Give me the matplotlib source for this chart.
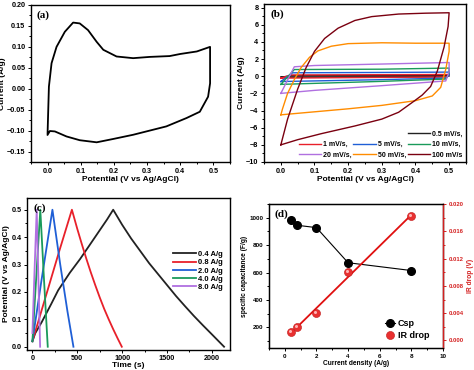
import numpy as np
import matplotlib
matplotlib.use('Agg')
import matplotlib.pyplot as plt
import matplotlib.transforms as mtransforms
from matplotlib.ticker import MultipleLocator, AutoMinorLocator

plt.rcParams['font.family'] = ['Liberation Sans', 'DejaVu Sans']
plt.rcParams['font.weight'] = 'bold'
plt.rcParams['axes.labelweight'] = 'bold'

# ---- (a) single CV loop
cv_a_pot = [0.0, 0.004, 0.012, 0.027, 0.052, 0.077, 0.097, 0.122, 0.148, 0.168, 0.208, 0.258,
            0.308, 0.368, 0.40, 0.45, 0.49, 0.49, 0.484, 0.459, 0.419, 0.358, 0.258, 0.198,
            0.148, 0.097, 0.057, 0.022, 0.007, 0.0]
cv_a_cur = [-0.106, 0.005, 0.061, 0.100, 0.136, 0.158, 0.156, 0.140, 0.112, 0.093, 0.077, 0.073,
            0.076, 0.078, 0.083, 0.089, 0.100, 0.013, -0.019, -0.055, -0.070, -0.090, -0.110, -0.120,
            -0.128, -0.123, -0.114, -0.102, -0.101, -0.110]

# ---- (b) CV at different scan rates
scan_labels = ['0.5 mV/s,', '1 mV/s,', '5 mV/s,', '10 mV/s,', '20 mV/s,', '50 mV/s,', '100 mV/s']
scan_colors = ['#222222', '#e8202a', '#1f5fd6', '#1a9a5a', '#b070e0', '#ff8c00', '#7a0010']
cv_pot = [
    [0.0, 0.03, 0.3, 0.5, 0.5, 0.49, 0.3, 0.0],
    [0.0, 0.03, 0.3, 0.5, 0.5, 0.49, 0.3, 0.0],
    [0.0, 0.035, 0.3, 0.5, 0.5, 0.49, 0.3, 0.0],
    [0.0, 0.04, 0.3, 0.5, 0.5, 0.49, 0.3, 0.0],
    [0.0, 0.04, 0.1, 0.3, 0.5, 0.5, 0.49, 0.3, 0.1, 0.0],
    [0.0, 0.005, 0.02, 0.04, 0.06, 0.085, 0.11, 0.15, 0.2, 0.3, 0.4, 0.5,
     0.5, 0.49, 0.475, 0.45, 0.4, 0.3, 0.2, 0.1, 0.0],
    [0.0, 0.02, 0.05, 0.075, 0.1, 0.13, 0.17, 0.22, 0.27, 0.35, 0.43, 0.5,
     0.497, 0.485, 0.465, 0.445, 0.42, 0.396, 0.35, 0.3, 0.22, 0.12, 0.05, 0.0],
]
cv_cur = [
    [-0.12, 0.06, 0.08, 0.10, 0.02, -0.06, -0.09, -0.12],
    [-0.22, 0.15, 0.18, 0.20, 0.05, -0.08, -0.14, -0.22],
    [-0.62, 0.40, 0.44, 0.48, 0.10, -0.22, -0.40, -0.62],
    [-0.95, 0.78, 0.82, 0.95, 0.30, -0.33, -0.60, -0.95],
    [-2.0, 1.10, 1.25, 1.42, 1.60, 0.50, -0.55, -1.10, -1.65, -2.0],
    [-4.5, -3.8, -2.0, -0.4, 1.0, 2.2, 2.95, 3.5, 3.8, 3.9, 3.85, 3.85,
     2.9, 0.8, -1.3, -2.3, -2.85, -3.4, -3.8, -4.15, -4.5],
    [-8.0, -5.0, -1.5, 1.0, 2.9, 4.4, 5.6, 6.5, 6.95, 7.25, 7.35, 7.4,
     5.8, 3.4, 0.6, -1.2, -2.2, -2.9, -4.2, -5.0, -5.8, -6.7, -7.4, -8.0],
]

# ---- (c) GCD curves
gcd_labels = ['0.4 A/g', '0.8 A/g', '2.0 A/g', '4.0 A/g', '8.0 A/g']
gcd_colors = ['#222222', '#e8202a', '#1f5fd6', '#1a9a5a', '#b070e0']
gcd_time = [
    [0, 31, 104, 208, 287, 417, 531, 625, 729, 833, 900,
     1000, 1100, 1200, 1300, 1400, 1500, 1600, 1700, 1800, 1900, 2000, 2135],
    [0, 100, 200, 300, 440, 500, 550, 600, 650, 700, 750, 800, 850, 900, 950, 996],
    [0, 100, 223, 310, 390, 457],
    [0, 44, 88, 130, 171],
    [0, 24, 48, 68, 86],
]
gcd_pot = [
    [0.02, 0.049, 0.09, 0.155, 0.206, 0.27, 0.32, 0.365, 0.415, 0.465, 0.5,
     0.445, 0.395, 0.35, 0.305, 0.265, 0.225, 0.185, 0.148, 0.112, 0.078, 0.045, 0.0],
    [0.02, 0.13, 0.24, 0.35, 0.5, 0.43, 0.375, 0.322, 0.272, 0.225, 0.18, 0.138,
     0.1, 0.064, 0.03, 0.0],
    [0.02, 0.24, 0.5, 0.3, 0.13, 0.0],
    [0.02, 0.26, 0.5, 0.24, 0.0],
    [0.05, 0.28, 0.5, 0.23, 0.0],
]

# ---- (d) rate performance
cur_density = [0.4, 0.8, 2, 4, 8]
csp = [985, 945, 928, 672, 615]
ir_drop = [0.0013, 0.0020, 0.0040, 0.0101, 0.0182]

fig = plt.figure(figsize=(4.74, 3.7), dpi=100)
ax_a = fig.add_axes([0.0654, 0.5622, 0.4198, 0.4243])
ax_b = fig.add_axes([0.557, 0.5622, 0.426, 0.4265])
ax_c = fig.add_axes([0.057, 0.054, 0.428, 0.411])
ax_d = fig.add_axes([0.5675, 0.0595, 0.367, 0.389])

tick_fs = 5.2
label_fs = 6


def style(ax):
    for s in ax.spines.values():
        s.set_linewidth(1.0)
    ax.tick_params(which='both', direction='out', labelsize=tick_fs, width=0.7, pad=1.5)
    ax.tick_params(which='major', length=2.5)
    ax.tick_params(which='minor', length=1.5)
    ax.xaxis.set_minor_locator(AutoMinorLocator(2))
    ax.yaxis.set_minor_locator(AutoMinorLocator(2))


def panel_label(ax, text):
    ax.text(0.03, 0.965, text, transform=ax.transAxes, ha='left', va='top',
            fontsize=8, fontweight='bold', family='Liberation Serif')


# (a)
ax_a.plot(cv_a_pot, cv_a_cur, color='black', lw=1.3)
ax_a.set_xlim(-0.05, 0.55)
ax_a.set_ylim(-0.175, 0.2)
ax_a.xaxis.set_major_locator(MultipleLocator(0.1))
ax_a.yaxis.set_major_locator(MultipleLocator(0.05))
ax_a.set_xlabel('Potential (V vs Ag/AgCl)', fontsize=label_fs, labelpad=1)
ax_a.set_ylabel('Current (A/g)', fontsize=label_fs, labelpad=1)
style(ax_a)
panel_label(ax_a, '(a)')

# (b)
lines_b = []
for p, c, col, lab in zip(cv_pot, cv_cur, scan_colors, scan_labels):
    ln, = ax_b.plot(p, c, color=col, lw=1.0, label=lab)
    lines_b.append(ln)
ax_b.set_xlim(-0.05, 0.55)
ax_b.set_ylim(-10, 8.4)
ax_b.xaxis.set_major_locator(MultipleLocator(0.1))
ax_b.yaxis.set_major_locator(MultipleLocator(2))
ax_b.set_xlabel('Potential (V vs Ag/AgCl)', fontsize=label_fs, labelpad=1)
ax_b.set_ylabel('Current (A/g)', fontsize=label_fs, labelpad=1)
style(ax_b)
panel_label(ax_b, '(b)')
blank = plt.Line2D([], [], alpha=0)
order = [blank, lines_b[1], lines_b[4], blank, lines_b[2], lines_b[5],
         lines_b[0], lines_b[3], lines_b[6]]
labs = ['', scan_labels[1], scan_labels[4], '', scan_labels[2], scan_labels[5],
        scan_labels[0], scan_labels[3], scan_labels[6]]
ax_b.legend(order, labs, ncol=3, loc='lower right', frameon=False, fontsize=5,
            handlelength=3.2, handletextpad=0.3, columnspacing=0.2,
            labelspacing=0.5, borderaxespad=0.1)

# (c)
for t, v, col, lab in zip(gcd_time, gcd_pot, gcd_colors, gcd_labels):
    ax_c.plot(t, v, color=col, lw=1.3, label=lab)
ax_c.set_xlim(-60, 2200)
ax_c.set_ylim(-0.012, 0.543)
ax_c.xaxis.set_major_locator(MultipleLocator(500))
ax_c.yaxis.set_major_locator(MultipleLocator(0.1))
ax_c.set_xlabel('Time (s)', fontsize=label_fs, labelpad=0)
ax_c.set_ylabel('Potential (V vs Ag/AgCl)', fontsize=label_fs, labelpad=1)
style(ax_c)
ax_c.tick_params(axis='x', pad=1)
panel_label(ax_c, '(c)')
ax_c.legend(loc='center right', frameon=False, fontsize=5.5, handlelength=3.0,
            handletextpad=0.3, labelspacing=0.12, bbox_to_anchor=(1.0, 0.52))

# (d)
ax_d.plot(cur_density, csp, color='black', lw=0.8, marker='o', ms=5.5, label='Csp')
ax_d.set_xlim(-1, 10)
ax_d.set_ylim(50, 1100)
ax_d.xaxis.set_major_locator(MultipleLocator(2))
ax_d.yaxis.set_major_locator(MultipleLocator(200))
ax_d.set_xlabel('Current density (A/g)', fontsize=4.8, labelpad=1)
ax_d.set_ylabel('specific capacitance (F/g)', fontsize=4.8, labelpad=1)
style(ax_d)
ax_d.tick_params(labelsize=4.5)
panel_label(ax_d, '(d)')

ax_r = ax_d.twinx()
coef = np.polyfit(cur_density, ir_drop, 1)
fit_x = np.array([min(cur_density) + 0.25, max(cur_density)])
ax_r.plot(fit_x, np.polyval(coef, fit_x), color='#e01010', lw=1.3)
ax_r.plot(cur_density, ir_drop, 'o', color='#e83030', mec='#c01818', mew=0.4,
          ms=5.8, label='IR drop', linestyle='none')
shine = mtransforms.offset_copy(ax_r.transData, fig=fig, x=-0.7, y=0.7, units='points')
ax_r.plot(cur_density, ir_drop, 'o', color='#ffb4b4', mew=0, ms=2.2,
          linestyle='none', transform=shine)
ax_r.set_ylim(-0.0011, 0.020)
ax_r.yaxis.set_major_locator(MultipleLocator(0.004))
ax_r.yaxis.set_minor_locator(AutoMinorLocator(2))
ax_r.set_ylabel('IR drop (V)', fontsize=4.8, color='#d42020', labelpad=2)
ax_r.tick_params(axis='y', which='both', direction='out', colors='#d42020',
                 labelsize=4.2, width=0.7, pad=2)
ax_r.tick_params(axis='y', which='major', length=2.5)
ax_r.tick_params(axis='y', which='minor', length=1.5)
ax_r.spines['right'].set_color('#d42020')
ax_r.spines['right'].set_linewidth(1.0)

h1, l1 = ax_d.get_legend_handles_labels()
h2, l2 = ax_r.get_legend_handles_labels()
ax_r.legend(h1 + h2[:1], l1 + l2[:1], loc='lower right', frameon=False,
            prop={'size': 6.5, 'weight': 'bold'}, handlelength=1.2,
            handletextpad=0.3, labelspacing=0.3, bbox_to_anchor=(0.97, 0.0))

fig.savefig('out.png', dpi=100)
